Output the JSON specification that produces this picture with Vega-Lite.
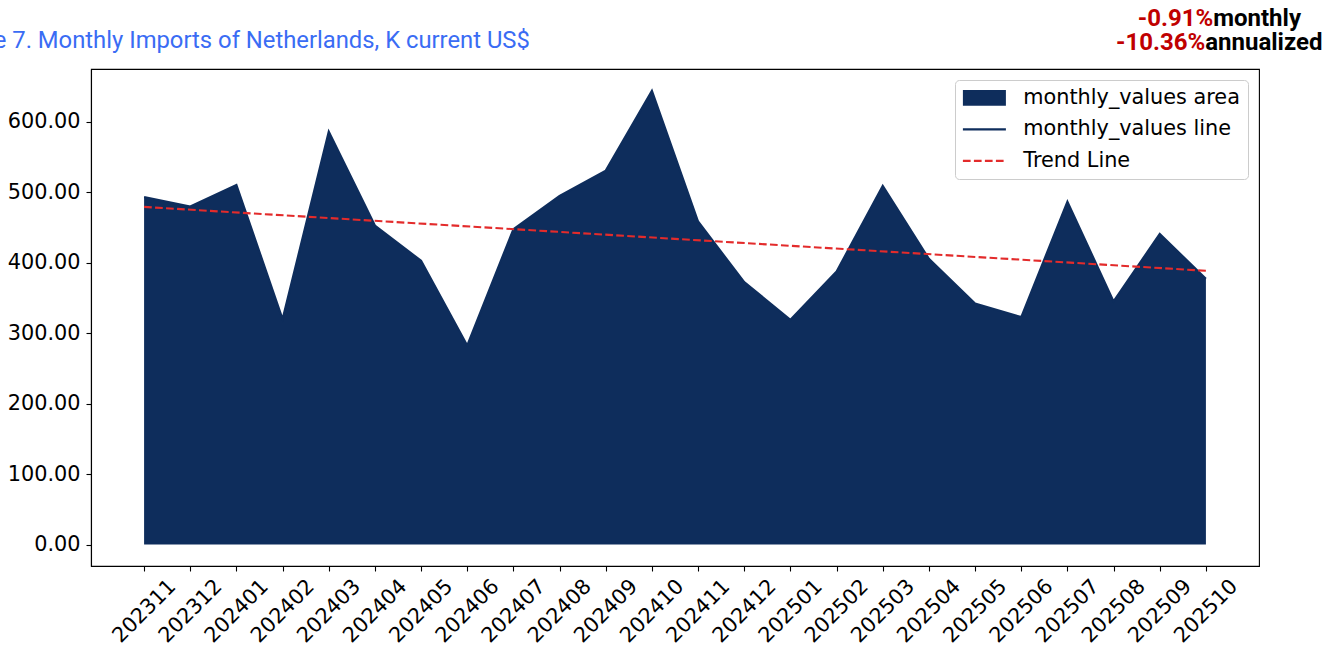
{
  "$schema": "https://vega.github.io/schema/vega-lite/v6.json",
  "width": 1168,
  "height": 497,
  "autosize": {"type": "none"},
  "padding": {"left": 91, "top": 69, "right": 82, "bottom": 82},
  "background": "white",
  "title": {
    "text": "Figure 7. Monthly Imports of Netherlands, K current US$",
    "anchor": "start",
    "frame": "group",
    "dx": -150.5,
    "offset": -65,
    "baseline": "alphabetic",
    "font": "Roboto",
    "fontSize": 23.8,
    "fontWeight": "normal",
    "color": "#3a6cf4"
  },
  "config": {
    "view": {"stroke": "black", "strokeWidth": 1.1},
    "axis": {
      "grid": false,
      "labelFont": "DejaVu Sans",
      "labelFontSize": 20.8,
      "labelColor": "black",
      "tickColor": "black",
      "domainColor": "black",
      "domainWidth": 1.1,
      "tickSize": 5,
      "tickWidth": 1.1,
      "title": null
    }
  },
  "datasets": {
    "imports": [
      {"month": "202311", "value": 493},
      {"month": "202312", "value": 479.5},
      {"month": "202401", "value": 510.3},
      {"month": "202402", "value": 319.9},
      {"month": "202403", "value": 585.8},
      {"month": "202404", "value": 452.6},
      {"month": "202405", "value": 402.6},
      {"month": "202406", "value": 282.5},
      {"month": "202407", "value": 447.5},
      {"month": "202408", "value": 494.7},
      {"month": "202409", "value": 530.6},
      {"month": "202410", "value": 644},
      {"month": "202411", "value": 458.3},
      {"month": "202412", "value": 372.3},
      {"month": "202501", "value": 318.9},
      {"month": "202502", "value": 387.4},
      {"month": "202503", "value": 508.9},
      {"month": "202504", "value": 405.4},
      {"month": "202505", "value": 342.1},
      {"month": "202506", "value": 322.7},
      {"month": "202507", "value": 486.6},
      {"month": "202508", "value": 344.9},
      {"month": "202509", "value": 440.8},
      {"month": "202510", "value": 377}
    ],
    "growth": [
      {"period": "monthly", "pct": "-0.91%"},
      {"period": "annualized", "pct": "-10.36%"}
    ]
  },
  "layer": [
    {
      "data": {"name": "imports"},
      "transform": [{"window": [{"op": "row_number", "as": "idx"}]}],
      "mark": {"type": "area", "opacity": 1},
      "encoding": {
        "x": {
          "field": "idx",
          "type": "quantitative",
          "scale": {"domain": [-0.15, 25.15], "nice": false, "zero": false},
          "axis": {
            "values": [1,2,3,4,5,6,7,8,9,10,11,12,13,14,15,16,17,18,19,20,21,22,23,24],
            "labelExpr": "['202311','202312','202401','202402','202403','202404','202405','202406','202407','202408','202409','202410','202411','202412','202501','202502','202503','202504','202505','202506','202507','202508','202509','202510'][datum.value-1]",
            "labelAngle": -45,
            "labelAlign": "center",
            "labelBaseline": "middle",
            "labelPadding": 40,
            "labelOverlap": false,
            "labelBound": false,
            "labelFlush": false
          }
        },
        "y": {
          "field": "value",
          "type": "quantitative",
          "scale": {"domain": [-30.5, 674.7], "nice": false, "zero": false},
          "axis": {
            "values": [0, 100, 200, 300, 400, 500, 600],
            "format": ".2f",
            "labelPadding": 6
          }
        },
        "y2": {"datum": 0},
        "color": {
          "datum": "monthly_values area",
          "scale": {
            "domain": ["monthly_values area", "monthly_values line", "Trend Line"],
            "range": ["#0e2d5c", "#0e2d5c", "#e32b2b"]
          },
          "legend": {
            "title": null,
            "orient": "top-right",
            "offset": 11,
            "padding": 7.5,
            "rowPadding": 9.5,
            "fillColor": "rgba(255,255,255,0.8)",
            "strokeColor": "#cccccc",
            "cornerRadius": 4,
            "labelFont": "DejaVu Sans",
            "labelFontSize": 20.8,
            "labelColor": "black",
            "labelLimit": 400,
            "labelOffset": 40,
            "symbolSize": 400,
            "symbolOpacity": 1,
            "symbolType": {"expr": "datum.value === 'monthly_values area' ? 'M-1,-0.78H3.3V0.78H-1Z' : 'M-1,0H3.3'"},
            "symbolFillColor": {"expr": "datum.value === 'monthly_values area' ? '#0e2d5c' : 'transparent'"},
            "symbolStrokeColor": {"expr": "datum.value === 'Trend Line' ? '#e32b2b' : '#0e2d5c'"},
            "symbolStrokeWidth": {"expr": "datum.value === 'monthly_values area' ? 0 : 2.1"},
            "symbolDash": {"expr": "datum.value === 'Trend Line' ? [7.7, 3.3] : [1, 0]"}
          }
        }
      }
    },
    {
      "data": {"name": "imports"},
      "transform": [{"window": [{"op": "row_number", "as": "idx"}]}],
      "mark": {"type": "line", "strokeWidth": 2.1},
      "encoding": {
        "x": {"field": "idx", "type": "quantitative"},
        "y": {"field": "value", "type": "quantitative"},
        "color": {"datum": "monthly_values line"}
      }
    },
    {
      "data": {"name": "imports"},
      "transform": [
        {"window": [{"op": "row_number", "as": "idx"}]},
        {"regression": "value", "on": "idx"}
      ],
      "mark": {"type": "line", "strokeWidth": 2.1, "strokeDash": [7.7, 3.3]},
      "encoding": {
        "x": {"field": "idx", "type": "quantitative"},
        "y": {"field": "value", "type": "quantitative"},
        "color": {"datum": "Trend Line"}
      }
    },
    {
      "data": {"name": "growth"},
      "transform": [{"filter": "datum.period === 'monthly'"}],
      "mark": {"type": "text", "align": "right", "baseline": "alphabetic", "font": "Roboto", "fontSize": 24, "fontWeight": "bold", "fill": "#c00000", "clip": false},
      "encoding": {"x": {"datum": 24.158}, "y": {"datum": 735.5}, "text": {"field": "pct"}}
    },
    {
      "data": {"name": "growth"},
      "transform": [{"filter": "datum.period === 'monthly'"}],
      "mark": {"type": "text", "align": "left", "baseline": "alphabetic", "font": "Roboto", "fontSize": 24, "fontWeight": "bold", "fill": "black", "clip": false},
      "encoding": {"x": {"datum": 24.158}, "y": {"datum": 735.5}, "text": {"field": "period"}}
    },
    {
      "data": {"name": "growth"},
      "transform": [{"filter": "datum.period === 'annualized'"}],
      "mark": {"type": "text", "align": "right", "baseline": "alphabetic", "font": "Roboto", "fontSize": 24, "fontWeight": "bold", "fill": "#c00000", "clip": false},
      "encoding": {"x": {"datum": 23.985}, "y": {"datum": 701.6}, "text": {"field": "pct"}}
    },
    {
      "data": {"name": "growth"},
      "transform": [{"filter": "datum.period === 'annualized'"}],
      "mark": {"type": "text", "align": "left", "baseline": "alphabetic", "font": "Roboto", "fontSize": 24, "fontWeight": "bold", "fill": "black", "clip": false},
      "encoding": {"x": {"datum": 23.985}, "y": {"datum": 701.6}, "text": {"field": "period"}}
    }
  ]
}
